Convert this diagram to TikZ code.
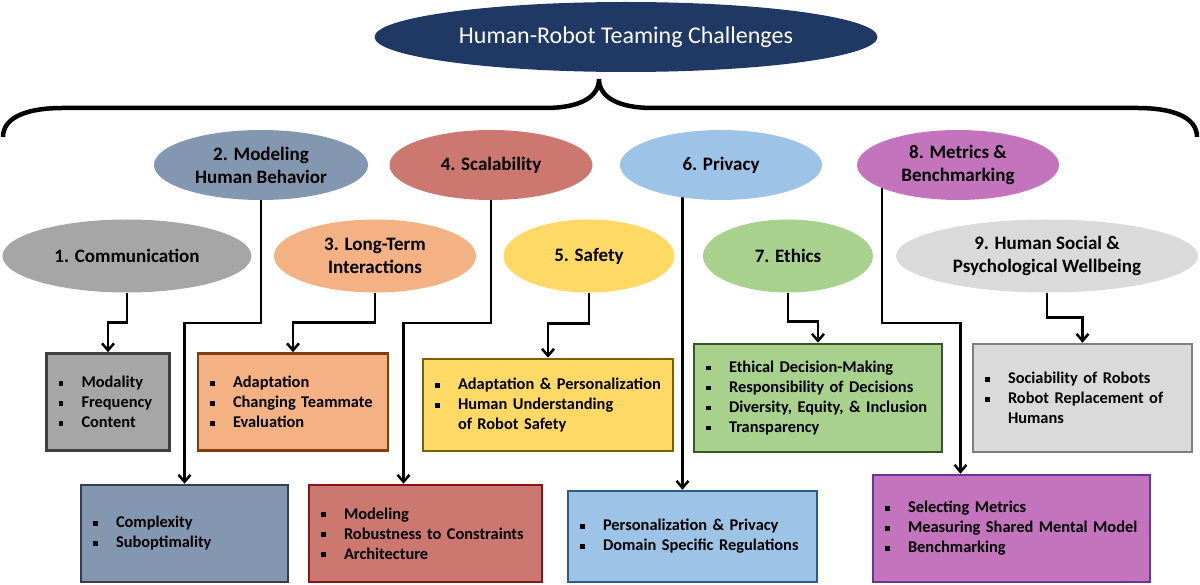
\documentclass[tikz,border=0pt]{standalone}
\usepackage{fontspec}
\setmainfont{Carlito}
\usetikzlibrary{shapes.geometric, arrows.meta, backgrounds}
\definecolor{Navy}{HTML}{203864}
\definecolor{CGray}{HTML}{A6A6A6}
\definecolor{CSlate}{HTML}{8497B0}
\definecolor{COrange}{HTML}{F4B183}
\definecolor{CRed}{HTML}{CC7770}
\definecolor{CYellow}{HTML}{FFD966}
\definecolor{CBlue}{HTML}{9DC3E6}
\definecolor{CGreen}{HTML}{A9D18E}
\definecolor{CPurple}{HTML}{C374BD}
\definecolor{CLight}{HTML}{DADADA}
\definecolor{DGray}{HTML}{404040}
\definecolor{DSlate}{HTML}{333F50}
\definecolor{DOrange}{HTML}{843C0C}
\definecolor{DRed}{HTML}{8E1414}
\definecolor{DYellow}{HTML}{7F6000}
\definecolor{DBlue}{HTML}{2E5A8C}
\definecolor{DGreen}{HTML}{385723}
\definecolor{DPurple}{HTML}{7030A0}
\definecolor{DLight}{HTML}{7F7F7F}

% one bulleted line, never broken
\newcommand{\itm}[1]{\mbox{\makebox[23pt][l]{\rule[0.12em]{0.3em}{0.3em}}#1}}
\newcommand{\more}[1]{\mbox{\hspace*{23pt}#1}}

\begin{document}
\begin{tikzpicture}[x=1pt, y=-1pt,
    topic/.style={ellipse, draw=none, inner sep=0pt, align=center,
        font=\fontsize{19}{23}\selectfont\bfseries},
    list/.style={rectangle, line width=2.5pt, inner xsep=12pt, inner ysep=0pt,
        align=left, font=\fontsize{16.4}{20}\selectfont\bfseries},
    link/.style={line width=2.5pt, -{Straight Barb[length=7pt, width=12pt]}}]

    \useasboundingbox (0,0) rectangle (1200,585);

    \node[ellipse, fill=Navy, text=white, inner sep=0pt,
        minimum width=503, minimum height=70, font=\fontsize{24}{28}\selectfont]
        (root) at (626,37) {Human-Robot Teaming Challenges};

    % brace
    \draw[line width=4.5pt]
        (3,137) .. controls (3,116) and (30,108) .. (62,108) -- (545,108)
        .. controls (582,108) and (599,96) .. (599,79)
        .. controls (599,96) and (616,108) .. (653,108) -- (1138,108)
        .. controls (1170,108) and (1197,116) .. (1197,137);

    % upper row
    \node[topic, fill=CSlate, minimum width=214, minimum height=70] (e2) at (261,165) {2. Modeling\\Human Behavior};
    \node[topic, fill=CRed, minimum width=203, minimum height=70] (e4) at (491,165) {4. Scalability};
    \node[topic, fill=CBlue, minimum width=202, minimum height=70] (e6) at (721,165) {6. Privacy};
    \node[topic, fill=CPurple, minimum width=202, minimum height=70] (e8) at (958,165) {8. Metrics \&\\Benchmarking};

    % lower row
    \node[topic, fill=CGray, minimum width=249, minimum height=73] (e1) at (127,256) {1. Communication};
    \node[topic, fill=COrange, minimum width=202, minimum height=73] (e3) at (375,256) {3. Long-Term\\Interactions};
    \node[topic, fill=CYellow, minimum width=171, minimum height=73] (e5) at (589,256) {5. Safety};
    \node[topic, fill=CGreen, minimum width=170, minimum height=73] (e7) at (788,256) {7. Ethics};
    \node[topic, fill=CLight, minimum width=302, minimum height=73] (e9) at (1047,256) {9. Human Social \&\\Psychological Wellbeing};

    % boxes
    \node[list, fill=CGray, draw=DGray, text width=99, minimum height=97] (b1) at (108,402)
        {\itm{Modality}\\\itm{Frequency}\\\itm{Content}};
    \node[list, fill=CSlate, draw=DSlate, text width=183, minimum height=97] (b2) at (184.5,533.5)
        {\itm{Complexity}\\\itm{Suboptimality}};
    \node[list, fill=COrange, draw=DOrange, text width=166, minimum height=97] (b3) at (293,402)
        {\itm{Adaptation}\\\itm{Changing Teammate}\\\itm{Evaluation}};
    \node[list, fill=CRed, draw=DRed, text width=209, minimum height=97] (b4) at (425.5,533.5)
        {\itm{Modeling}\\\itm{Robustness to Constraints}\\\itm{Architecture}};
    \node[list, fill=CYellow, draw=DYellow, text width=226, minimum height=92] (b5) at (548,405)
        {\itm{Adaptation \& Personalization}\\\itm{Human Understanding}\\\more{of Robot Safety}};
    \node[list, fill=CBlue, draw=DBlue, text width=225, minimum height=91] (b6) at (692.5,536.5)
        {\itm{Personalization \& Privacy}\\\itm{Domain Specific Regulations}};
    \node[list, fill=CGreen, draw=DGreen, text width=224, minimum height=108] (b7) at (818,398)
        {\itm{Ethical Decision-Making}\\\itm{Responsibility of Decisions}\\\itm{Diversity, Equity, \& Inclusion}\\\itm{Transparency}};
    \node[list, fill=CPurple, draw=DPurple, text width=253, minimum height=107] (b8) at (1011.5,528.5)
        {\itm{Selecting Metrics}\\\itm{Measuring Shared Mental Model}\\\itm{Benchmarking}};
    \node[list, fill=CLight, draw=DLight, text width=195, minimum height=108] (b9) at (1082.5,398)
        {\itm{Sociability of Robots}\\\itm{Robot Replacement of}\\\more{Humans}};

    % links
    \begin{scope}[on background layer]
        \draw[link] (e1.south) -- ++(0,30) -| (b1.north);
        \draw[link] (e2.south) -- ++(0,123) -| (b2.north);
        \draw[link] (e3.south) -- ++(0,30) -| (b3.north);
        \draw[link] (e4.south) -- ++(0,123) -| ([xshift=-22pt]b4.north);
        \draw[link] (e5.south) -- ++(0,31) -| (b5.north);
        \draw[link] ([xshift=-10pt]b6.north |- e6.center) -- ([xshift=-10pt]b6.north);
        \draw[link] (e7.south) -- ++(0,29) -| (b7.north);
        \draw[link] ([xshift=-76pt]e8.center) -- ++(0,158) -| ([xshift=-51pt]b8.north);
        \draw[link] (e9.south) -- ++(0,25) -| (b9.north);
    \end{scope}

\end{tikzpicture}
\end{document}
